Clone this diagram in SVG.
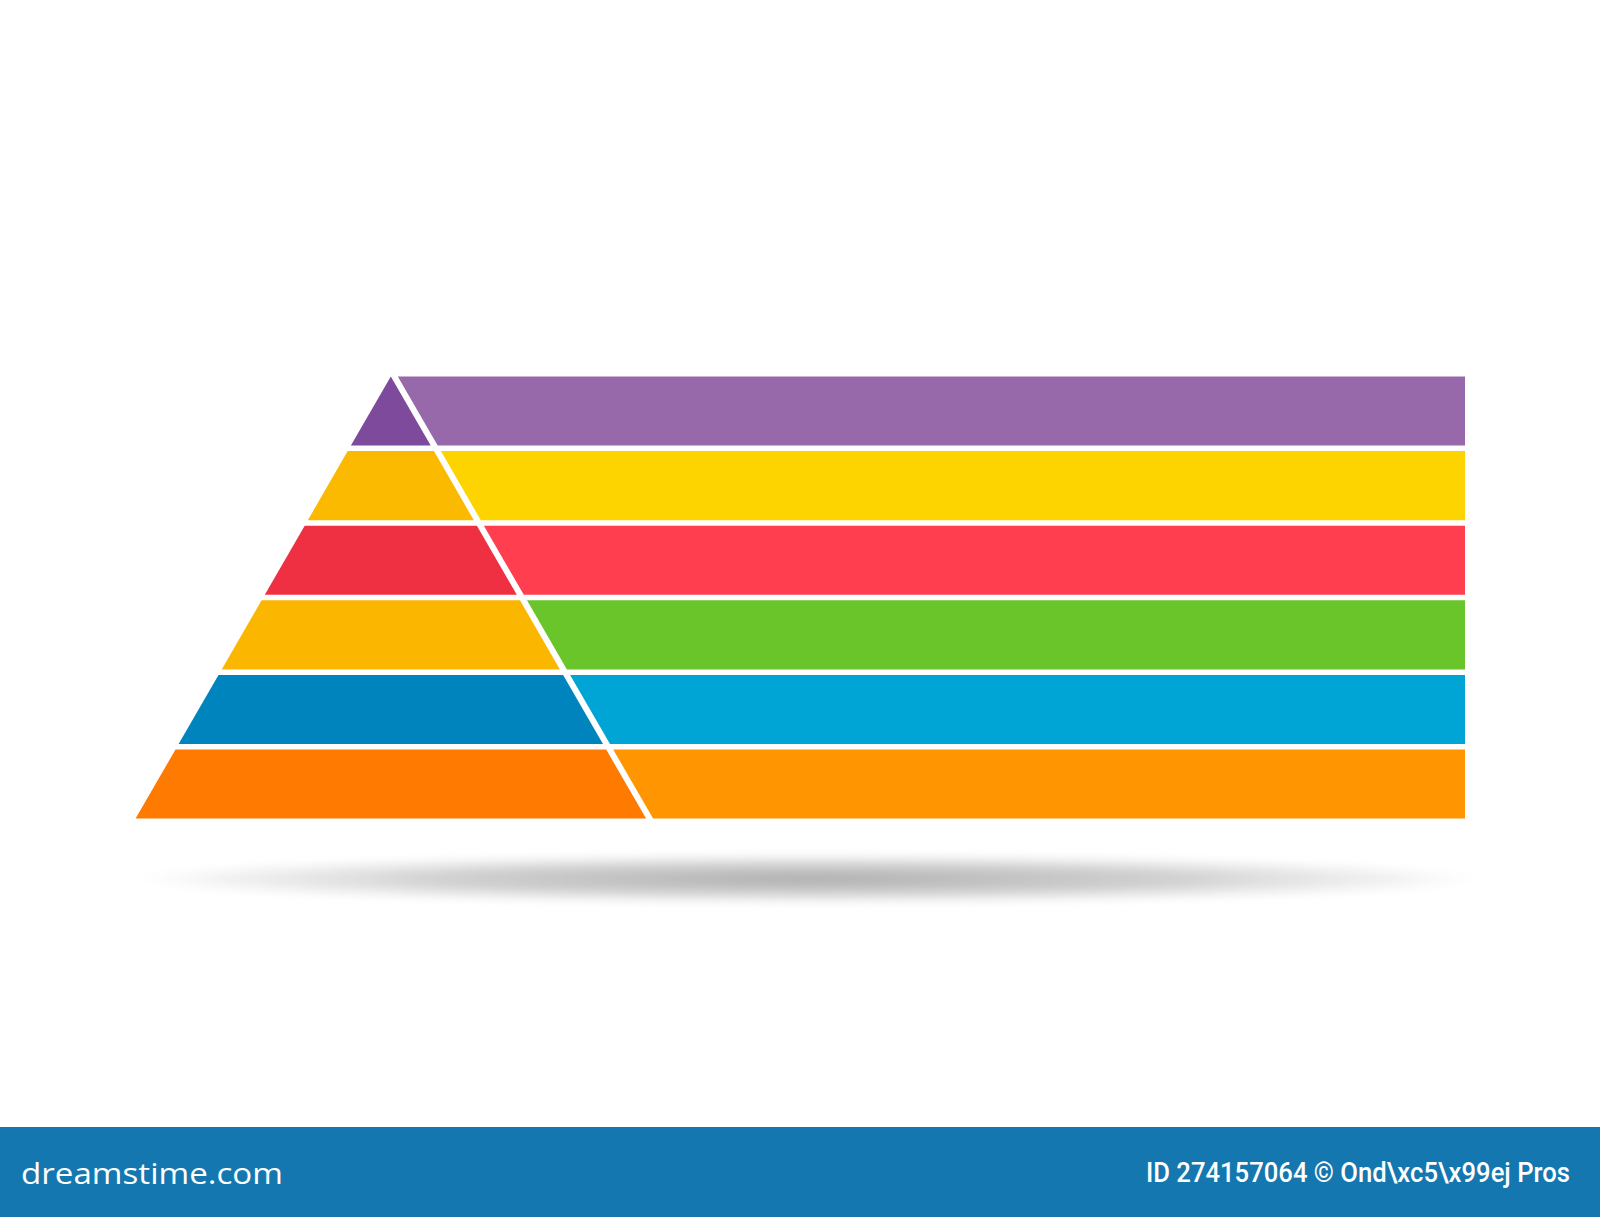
<svg xmlns="http://www.w3.org/2000/svg" width="1600" height="1217" viewBox="0 0 1600 1217">
  <defs>
    <radialGradient id="shadowGrad" cx="0.5" cy="0.5" r="0.5">
      <stop offset="0" stop-color="#a9a9a9" stop-opacity="0.95"/>
      <stop offset="0.55" stop-color="#c2c2c2" stop-opacity="0.75"/>
      <stop offset="0.85" stop-color="#e2e2e2" stop-opacity="0.45"/>
      <stop offset="1" stop-color="#ffffff" stop-opacity="0"/>
    </radialGradient>
    <filter id="soft" x="-10%" y="-100%" width="120%" height="300%">
      <feGaussianBlur stdDeviation="4"/>
    </filter>
  </defs>
  <style>
    .footer-text { fill: #ffffff; }
    .logo { font-family: "Open Sans", "DejaVu Sans", sans-serif; font-weight: 500; font-size: 30px; }
    .credit { font-family: Roboto, "Liberation Sans", sans-serif; font-weight: 500; font-size: 27px; }
  </style>
  <rect x="0" y="0" width="1600" height="1217" fill="#ffffff"/>

  <!-- shadow -->
  <ellipse cx="808" cy="879" rx="700" ry="26" fill="url(#shadowGrad)" filter="url(#soft)"/>

  <g id="level-1">
    <polygon points="390.8,376.5 430.7,445.6 350.9,445.6" fill="#7D4A9C"/>
    <polygon points="397.8,376.5 1465,376.5 1465,445.6 437.7,445.6" fill="#9768AA"/>
  </g>
  <g id="level-2">
    <polygon points="347.7,451.1 433.9,451.1 473.8,520.2 307.8,520.2" fill="#FBB900"/>
    <polygon points="440.9,451.1 1465,451.1 1465,520.2 480.8,520.2" fill="#FED400"/>
  </g>
  <g id="level-3">
    <polygon points="304.7,525.7 476.9,525.7 516.8,594.8 264.8,594.8" fill="#EE3042"/>
    <polygon points="483.9,525.7 1465,525.7 1465,594.8 523.8,594.8" fill="#FF3E50"/>
  </g>
  <g id="level-4">
    <polygon points="261.6,600.3 520.0,600.3 559.9,669.4 221.7,669.4" fill="#FBB700"/>
    <polygon points="527.0,600.3 1465,600.3 1465,669.4 566.9,669.4" fill="#6AC52A"/>
  </g>
  <g id="level-5">
    <polygon points="218.5,674.9 563.1,674.9 603.0,744.0 178.6,744.0" fill="#0084BE"/>
    <polygon points="570.1,674.9 1465,674.9 1465,744.0 610.0,744.0" fill="#00A5D5"/>
  </g>
  <g id="level-6">
    <polygon points="175.5,749.5 606.2,749.5 646.1,818.6 135.6,818.6" fill="#FF7A00"/>
    <polygon points="613.2,749.5 1465,749.5 1465,818.6 653.1,818.6" fill="#FF9500"/>
  </g>
  <g id="connectors"></g>

  <!-- footer -->
  <g id="footer">
    <rect x="0" y="1127" width="1600" height="90" fill="#1477B0"/>
    <text class="footer-text logo" x="21" y="1184" textLength="262" lengthAdjust="spacingAndGlyphs">dreamstime.com</text>
    <text class="footer-text credit" x="1146" y="1182" textLength="424" lengthAdjust="spacingAndGlyphs">ID 274157064 © Ond\xc5\x99ej Pros</text>
  </g>
</svg>
